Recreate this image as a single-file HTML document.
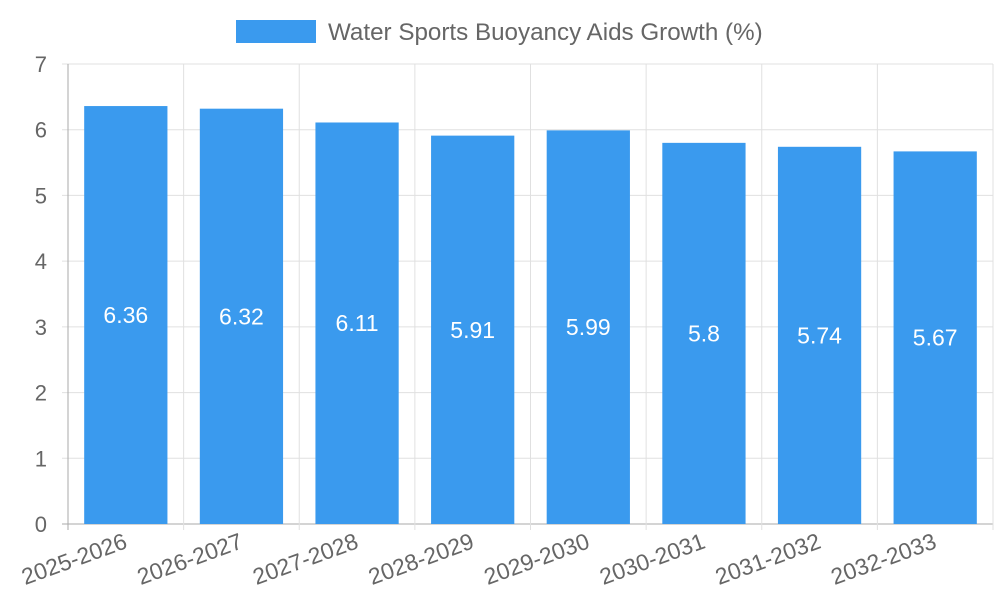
<!DOCTYPE html>
<html><head><meta charset="utf-8"><style>
html,body{margin:0;padding:0;background:#fff;}
svg{display:block;font-family:"Liberation Sans",sans-serif;}
</style></head><body>
<svg id="chart" width="1000" height="600">
<g id="legend">
<rect x="236" y="20" width="80" height="23" fill="#3a9aee"></rect>
<text x="328" y="40" font-size="24.2" fill="#666">Water Sports Buoyancy Aids Growth (%)</text>
</g>
<g id="grid"></g><g id="bars"></g><g id="axes"></g>
</svg>
<script>
const categories=["2025-2026","2026-2027","2027-2028","2028-2029","2029-2030","2030-2031","2031-2032","2032-2033"];
const values=[6.36,6.32,6.11,5.91,5.99,5.8,5.74,5.67];
const yTicks=[0,1,2,3,4,5,6,7];
const NS="http://www.w3.org/2000/svg";
const L=68,R=993,T=64,B=524,yMax=7;
const bw=(R-L)/categories.length;
const y=v=>B-(v/yMax)*(B-T);
const x=i=>L+i*bw;
function mk(tag,attrs,parent,txt){const e=document.createElementNS(NS,tag);for(const k in attrs)e.setAttribute(k,attrs[k]);if(txt!==undefined)e.textContent=txt;parent.appendChild(e);return e;}
const grid=document.getElementById('grid'),bars=document.getElementById('bars'),axes=document.getElementById('axes');
yTicks.forEach(t=>{
 const g=mk('line',{x1:L-6,x2:R,y1:y(t),y2:y(t),stroke:t===0?'#aaa':'#e0e0e0','stroke-width':1},grid);
 
 
 const tx=mk('text',{x:47,y:y(t)+8,'font-size':22,fill:'#666','text-anchor':'end'},axes,String(t));
 
 
});
for(let i=0;i<=categories.length;i++){
 const g=mk('line',{x1:x(i),x2:x(i),y1:T,y2:B+6,stroke:i===0?'#aaa':'#e0e0e0','stroke-width':1},grid);
 
 
}
categories.forEach((c,i)=>{
 const cx=x(i)+bw/2,w=bw*0.72;
 const r=mk('rect',{x:cx-w/2,y:y(values[i]),width:w,height:B-y(values[i]),fill:'#3a9aee'},bars);
 
 
 const v=mk('text',{x:cx,y:(y(values[i])+B)/2+8,'font-size':23,fill:'#fff','text-anchor':'middle'},bars,String(values[i]));
 
 
 const lx=cx,ly=B+16;
 const tl=mk('text',{x:lx,y:ly+8,'font-size':23,fill:'#666','text-anchor':'end',transform:`rotate(-20 ${lx} ${ly})`},axes,c);
 
 
});
</script>
</body></html>
